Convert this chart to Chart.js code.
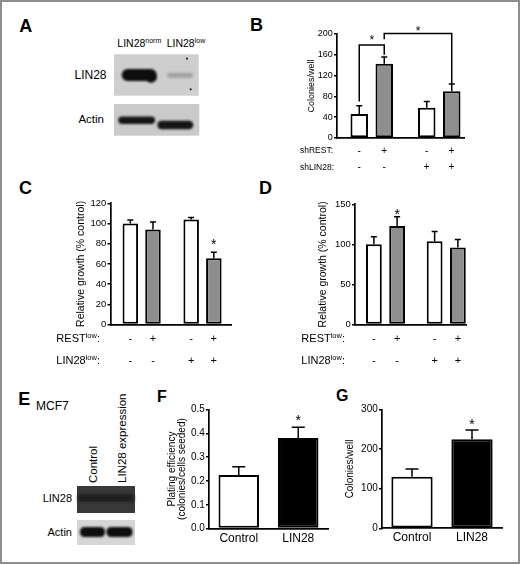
<!DOCTYPE html>
<html>
<head>
<meta charset="utf-8">
<title>LIN28 / REST figure</title>
<script src="https://cdn.jsdelivr.net/npm/chart.js@4.4.1/dist/chart.umd.min.js"></script>
<style>
  html, body { margin: 0; padding: 0; background: #fff; }
  #fig { position: relative; width: 520px; height: 564px; overflow: hidden; background: #fff; }
  #fig canvas, #fig svg { position: absolute; left: 0; top: 0; }
  #frame { position: absolute; left: 0; top: 0; width: 520px; height: 564px; box-sizing: border-box; border: 2px solid #8d8d8d; pointer-events: none; }
</style>
</head>
<body>
<div id="fig">
  <svg id="art" width="520" height="564" xmlns="http://www.w3.org/2000/svg">
    <defs>
      <filter id="soft" x="-30%" y="-80%" width="160%" height="260%"><feGaussianBlur stdDeviation="0.9"/></filter>
      <filter id="softer" x="-30%" y="-100%" width="160%" height="300%"><feGaussianBlur stdDeviation="1.6"/></filter>
    </defs>
    <!-- Panel A blots -->
    <rect x="114" y="54.3" width="84.7" height="41.4" fill="#cecece"/>
    <g filter="url(#soft)" fill="#0c0c0c">
      <rect x="121.7" y="69" width="35" height="12" rx="6"/>
      <ellipse cx="151" cy="77" rx="6" ry="5.7"/>
    </g>
    <rect x="167" y="73" width="26" height="4.8" rx="2.4" fill="#9c9c9c" filter="url(#softer)"/>
    <circle cx="187" cy="58.7" r="1.1" fill="#2a2a2a"/>
    <circle cx="190.7" cy="89.3" r="1.1" fill="#2a2a2a"/>
    <rect x="114" y="104" width="85.3" height="31.7" fill="#cacaca"/>
    <g filter="url(#soft)" fill="#141414">
      <rect x="118.3" y="116.5" width="36.7" height="7.5" rx="3.7"/>
      <rect x="157.3" y="120.7" width="36" height="8.6" rx="4.2"/>
    </g>
    <!-- Panel E blots -->
    <rect x="77" y="486" width="58" height="27" fill="#383838"/>
    <rect x="78" y="494.5" width="56" height="7" fill="#1c1c1c" filter="url(#softer)"/>
    <rect x="77" y="520" width="58" height="25" fill="#d6d6d6"/>
    <g filter="url(#soft)" fill="#0a0a0a">
      <rect x="80" y="527" width="25" height="10" rx="4.5"/>
      <rect x="106.5" y="527" width="26" height="10" rx="4.5"/>
    </g>
    <!-- Texts -->
    <g font-family="'Liberation Sans', Arial, Helvetica, sans-serif" fill="#000">
      <g font-size="18" font-weight="bold">
        <text x="19.3" y="31.7">A</text>
        <text x="250" y="31">B</text>
        <text x="19" y="194">C</text>
        <text x="259" y="194">D</text>
        <text x="18.3" y="405">E</text>
      </g>
      <g font-size="16" font-weight="bold">
        <text x="157" y="402">F</text>
        <text x="336" y="401">G</text>
      </g>
      <text x="117.3" y="47" font-size="10.5">LIN28<tspan font-size="7" dy="-4">norm</tspan></text>
      <text x="166.7" y="47" font-size="10.5">LIN28<tspan font-size="7" dy="-4">low</tspan></text>
      <text x="106.5" y="79.3" font-size="12" text-anchor="end">LIN28</text>
      <text x="104" y="122.5" font-size="11.5" text-anchor="end">Actin</text>
      <text x="36" y="410" font-size="12">MCF7</text>
      <text transform="translate(97,483) rotate(-90)" font-size="11.5">Control</text>
      <text transform="translate(126,483) rotate(-90)" font-size="11.5">LIN28 expression</text>
      <text x="72" y="502.2" font-size="11" text-anchor="end">LIN28</text>
      <text x="72" y="535.6" font-size="11" text-anchor="end">Actin</text>
    </g>
  </svg>
  <canvas id="chartB" width="520" height="564"></canvas>
  <canvas id="chartC" width="520" height="564"></canvas>
  <canvas id="chartD" width="520" height="564"></canvas>
  <canvas id="chartF" width="520" height="564"></canvas>
  <canvas id="chartG" width="520" height="564"></canvas>
  <div id="frame"></div>
</div>
<script>
const FONT = "'Liberation Sans', Arial, Helvetica, sans-serif";
const WHITE_FILL = '#ffffff';
const GRAY_FILL = '#8e8e8e';
const BLACK_FILL = '#000000';

// ---- Panel B : colonies/well, shREST x shLIN28 ----
const bGroups = [1, 2];
const bControl = [46, 58];
const bShREST = [143, 90];
const bControlErr = [16, 12];
const bShRESTErr = [13, 14];
const bYTicks = [0, 40, 80, 120, 160, 200];
const bRowLabels = ['shREST:', 'shLIN28:'];
const bRowSigns = [['-', '+', '-', '+'], ['-', '-', '+', '+']];
const bBracketBars = [[0, 1], [1, 3]];
const bBracketTop = [179, 201];
const bBracketLegStart = [70, 190];
const bBracketLegEnd = [160, 104];
const bBracketStar = [193, 212];

// ---- Panel C : relative growth ----
const cGroups = [1, 2];
const cControl = [100, 104];
const cRESTlow = [94, 65.5];
const cControlErr = [3.5, 2];
const cRESTlowErr = [7.5, 6];
const cYTicks = [0, 20, 40, 60, 80, 100, 120];
const cStars = [null, null, null, 83];

// ---- Panel D : relative growth ----
const dGroups = [1, 2];
const dControl = [100, 104];
const dRESTlow = [123, 96];
const dControlErr = [9.5, 12];
const dRESTlowErr = [11.5, 10];
const dYTicks = [0, 50, 100, 150];
const dStars = [null, 141, null, null];

const cdRowLabels = [['REST', 'low'], ['LIN28', 'low']];
const cdRowSigns = [['-', '+', '-', '+'], ['-', '-', '+', '+']];

// ---- Panel F : plating efficiency ----
const fLabels = ['Control', 'LIN28'];
const fValues = [0.225, 0.38];
const fErr = [0.035, 0.045];
const fYTicks = [0, 0.1, 0.2, 0.3, 0.4, 0.5];
const fStars = [null, 0.468];

// ---- Panel G : colonies/well ----
const gLabels = ['Control', 'LIN28'];
const gValues = [130, 225];
const gErr = [20, 23];
const gYTicks = [0, 100, 200, 300];
const gStars = [null, 272];

function drawParts(ctx, parts, x, y, align) {
  let total = 0;
  parts.forEach(p => { ctx.font = p[1] + 'px ' + FONT; total += ctx.measureText(p[0]).width; });
  let cx = align === 'right' ? x - total : x;
  ctx.textAlign = 'left';
  ctx.textBaseline = 'middle';
  parts.forEach(p => {
    ctx.font = p[1] + 'px ' + FONT;
    ctx.fillText(p[0], cx, y + p[2]);
    cx += ctx.measureText(p[0]).width;
  });
}

function makeAnnotate(a) {
  return {
    id: 'annotate',
    afterDatasetsDraw(chart) {
      const ctx = chart.ctx;
      const ys = chart.scales.y;
      const area = chart.chartArea;
      const nd = chart.data.datasets.length;
      const len = chart.data.datasets[0].data.length;
      const bars = [];
      for (let i = 0; i < len; i++) {
        for (let d = 0; d < nd; d++) {
          const el = chart.getDatasetMeta(d).data[i];
          const raw = chart.data.datasets[d].data[i];
          const v = (raw !== null && typeof raw === 'object') ? raw.y : raw;
          bars.push({x: el.x, top: el.y, v: v, e: a.errs[d][i]});
        }
      }
      ctx.save();
      ctx.strokeStyle = '#000';
      ctx.fillStyle = '#000';
      ctx.lineWidth = 1.5;
      bars.forEach(b => {
        const yt = ys.getPixelForValue(b.v + b.e);
        ctx.beginPath();
        ctx.moveTo(b.x, b.top);
        ctx.lineTo(b.x, yt);
        ctx.moveTo(b.x - a.cap, yt);
        ctx.lineTo(b.x + a.cap, yt);
        ctx.stroke();
      });
      ctx.font = a.starSize + 'px ' + FONT;
      ctx.textAlign = 'center';
      ctx.textBaseline = 'alphabetic';
      (a.stars || []).forEach((s, i) => {
        if (s === null) return;
        ctx.fillText('*', bars[i].x, ys.getPixelForValue(s) + 0.57 * a.starSize);
      });
      (a.brackets || []).forEach(br => {
        const xa = bars[br.bars[0]].x, xb = bars[br.bars[1]].x;
        const yTop = ys.getPixelForValue(br.top);
        ctx.beginPath();
        ctx.moveTo(xa, ys.getPixelForValue(br.legA));
        ctx.lineTo(xa, yTop);
        ctx.lineTo(xb, yTop);
        ctx.lineTo(xb, ys.getPixelForValue(br.legB));
        ctx.stroke();
        ctx.font = a.starSize + 'px ' + FONT;
        ctx.textAlign = 'center';
        ctx.textBaseline = 'alphabetic';
        ctx.fillText('*', (xa + xb) / 2, ys.getPixelForValue(br.star) + 0.57 * a.starSize);
      });
      if (a.rows) {
        const r = a.rows;
        r.labels.forEach((parts, k) => {
          const yy = area.bottom + r.offsets[k];
          drawParts(ctx, parts, r.labelX, yy, r.align);
          ctx.font = r.signSize + 'px ' + FONT;
          ctx.textAlign = 'center';
          ctx.textBaseline = 'middle';
          r.signs[k].forEach((s, i) => ctx.fillText(s, bars[i].x, yy));
        });
      }
      ctx.restore();
    }
  };
}

function makeChart(id, o) {
  const datasets = o.series.map((s, i) => ({
    data: o.linear ? o.groups.map((g, j) => ({x: g, y: s[j]})) : s,
    backgroundColor: o.fills[i],
    borderColor: '#000',
    borderWidth: 2,
    borderSkipped: false,
    categoryPercentage: o.catPct,
    barPercentage: o.barPct
  }));
  const xScale = o.linear ? {
    type: 'linear', min: o.xMin, max: o.xMax, offset: false,
    afterBuildTicks: s => { s.ticks = o.groups.map(v => ({value: v})); },
    afterFit: s => { s.height = 10; },
    ticks: {display: false},
    grid: {display: false, drawTicks: false},
    border: {display: true, color: '#000', width: 1.7}
  } : {
    type: 'category',
    afterFit: s => { s.height = 20; },
    ticks: {font: {family: FONT, size: 12}, color: '#000', padding: 2.5, autoSkip: false, maxRotation: 0, minRotation: 0},
    grid: {display: false, drawTicks: false},
    border: {display: true, color: '#000', width: 1.7}
  };
  const yScale = {
    type: 'linear', min: 0, max: o.yMax,
    afterFit: s => { s.width = o.yWidth; },
    afterBuildTicks: s => { s.ticks = o.yTicks.map(v => ({value: v})); },
    ticks: {font: {family: FONT, size: o.tickSize}, color: '#000', padding: 1.2, autoSkip: false,
            callback: o.tickFmt || (v => String(v))},
    grid: {display: true, drawOnChartArea: false, drawTicks: true, tickLength: 3, color: '#000', lineWidth: 1.5},
    border: {display: true, color: '#000', width: 1.7},
    title: {display: true, text: o.title, color: '#000', padding: 0,
            font: {family: FONT, size: o.titleSize, lineHeight: o.titleLH || 1.2}}
  };
  return new Chart(document.getElementById(id), {
    type: 'bar',
    data: {labels: o.labels || [], datasets: datasets},
    options: {
      responsive: false, animation: false, events: [],
      layout: {padding: o.pad},
      plugins: {legend: {display: false}, tooltip: {enabled: false}},
      scales: {x: xScale, y: yScale}
    },
    plugins: [makeAnnotate(o.annot)]
  });
}

function supRows(labels) {
  return labels.map(l => [[l[0], 11, 0], [l[1], 7.5, -3], [':', 11, 0]]);
}

// Panel B
makeChart('chartB', {
  linear: true, groups: bGroups, xMin: 0.485, xMax: 2.367,
  series: [bControl, bShREST], fills: [WHITE_FILL, GRAY_FILL],
  catPct: 0.741, barPct: 0.70,
  yMax: 200, yTicks: bYTicks, tickSize: 9, yWidth: 30.7,
  title: 'Colonies/well', titleSize: 9,
  pad: {left: 306.3, right: 56, top: 34, bottom: 416},
  annot: {
    errs: [bControlErr, bShRESTErr], cap: 3, starSize: 12,
    brackets: bBracketBars.map((bb, i) => ({bars: bb, top: bBracketTop[i], legA: bBracketLegStart[i], legB: bBracketLegEnd[i], star: bBracketStar[i]})),
    rows: {labels: bRowLabels.map(t => [[t, 8.5, 0]]), signs: bRowSigns, offsets: [13, 29.7], labelX: 300, align: 'left', signSize: 10}
  }
});

// Panel C
makeChart('chartC', {
  linear: true, groups: cGroups, xMin: 0.488, xMax: 2.48,
  series: [cControl, cRESTlow], fills: [WHITE_FILL, GRAY_FILL],
  catPct: 0.745, barPct: 0.684,
  yMax: 120, yTicks: cYTicks, tickSize: 9.5, yWidth: 35.3,
  title: 'Relative growth (% control)', titleSize: 10.5,
  pad: {left: 75.2, right: 288.3, top: 203.3, bottom: 229.5},
  annot: {
    errs: [cControlErr, cRESTlowErr], cap: 3, starSize: 14, stars: cStars,
    rows: {labels: supRows(cdRowLabels), signs: cdRowSigns, offsets: [14.5, 36.5], labelX: 100, align: 'right', signSize: 11}
  }
});

// Panel D
makeChart('chartD', {
  linear: true, groups: dGroups, xMin: 0.498, xMax: 2.325,
  series: [dControl, dRESTlow], fills: [WHITE_FILL, GRAY_FILL],
  catPct: 0.765, barPct: 0.68,
  yMax: 150, yTicks: dYTicks, tickSize: 9.5, yWidth: 38,
  title: 'Relative growth (% control)', titleSize: 10.5,
  pad: {left: 317, right: 54, top: 204.3, bottom: 229.5},
  annot: {
    errs: [dControlErr, dRESTlowErr], cap: 3, starSize: 14, stars: dStars,
    rows: {labels: supRows(cdRowLabels), signs: cdRowSigns, offsets: [14.5, 36.5], labelX: 345, align: 'right', signSize: 11}
  }
});

// Panel F
makeChart('chartF', {
  linear: false, labels: fLabels,
  series: [fValues], fills: [[WHITE_FILL, BLACK_FILL]],
  catPct: 0.8, barPct: 0.85,
  yMax: 0.5, yTicks: fYTicks, tickSize: 10, yWidth: 42, tickFmt: v => Number(v).toFixed(1),
  title: ['Plating efficiency', '(colonies/cells seeded)'], titleSize: 10, titleLH: 1.0,
  pad: {left: 167, right: 192, top: 409.5, bottom: 15.4},
  annot: {errs: [fErr], cap: 6.5, starSize: 14, stars: fStars}
});

// Panel G
makeChart('chartG', {
  linear: false, labels: gLabels,
  series: [gValues], fills: [[WHITE_FILL, BLACK_FILL]],
  catPct: 0.8, barPct: 0.86,
  yMax: 300, yTicks: gYTicks, tickSize: 10, yWidth: 38,
  title: 'Colonies/well', titleSize: 10,
  pad: {left: 344, right: 18, top: 409.5, bottom: 15.7},
  annot: {errs: [gErr], cap: 6.5, starSize: 14, stars: gStars}
});
</script>
</body>
</html>
